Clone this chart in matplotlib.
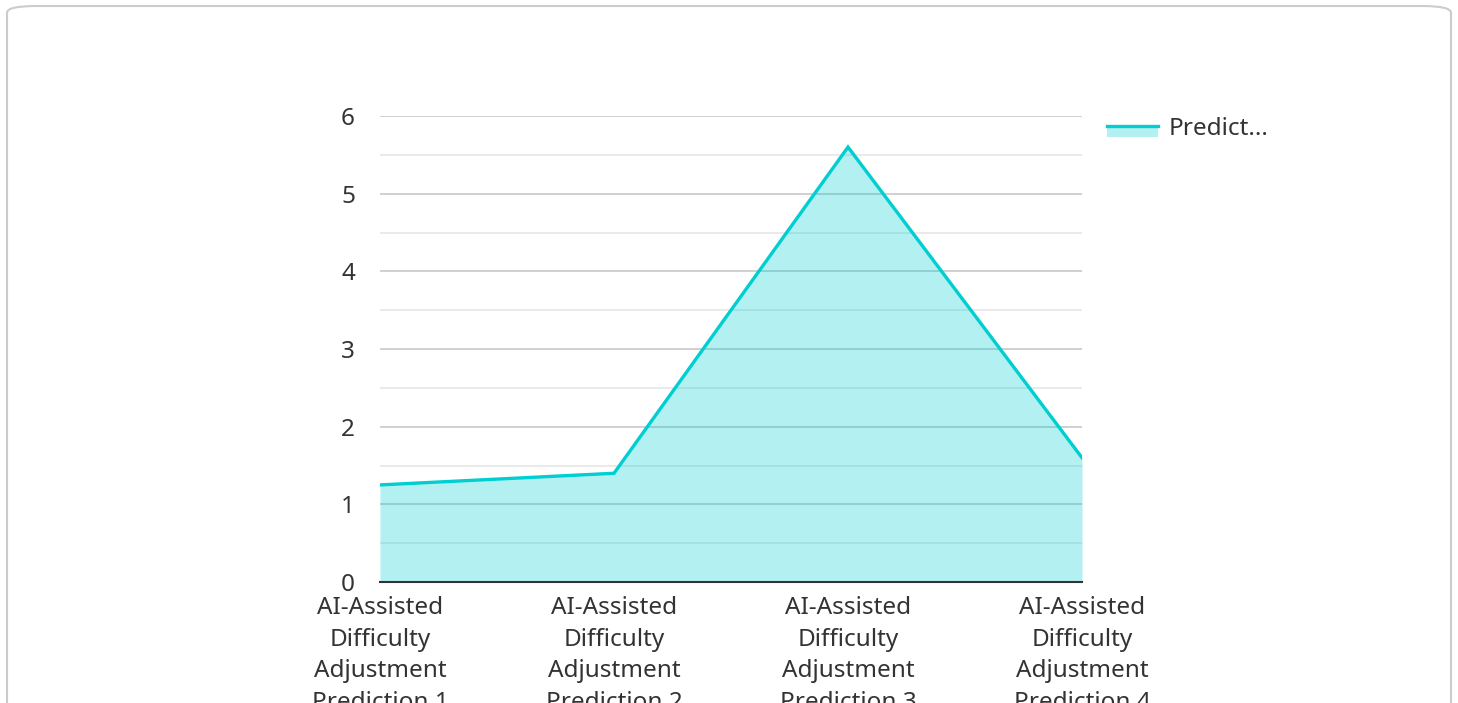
import matplotlib
matplotlib.use("Agg")
import matplotlib.pyplot as plt
from matplotlib.patches import FancyBboxPatch, Rectangle
from matplotlib.lines import Line2D
from matplotlib.legend_handler import HandlerBase

categories = [
    "AI-Assisted\nDifficulty\nAdjustment\nPrediction 1",
    "AI-Assisted\nDifficulty\nAdjustment\nPrediction 2",
    "AI-Assisted\nDifficulty\nAdjustment\nPrediction 3",
    "AI-Assisted\nDifficulty\nAdjustment\nPrediction 4",
]
values = [1.25, 1.4, 5.6, 1.6]
series_name = "Predict..."
y_ticks = [0, 1, 2, 3, 4, 5, 6]

line_color = "#00CED1"
text_color = "#333333"
font_size = 17.5

plt.rcParams["font.family"] = ["Noto Sans", "DejaVu Sans"]

fig = plt.figure(figsize=(14.58, 7.03), dpi=100)
fig.patch.set_facecolor("white")

# rounded card outline
card = FancyBboxPatch((7 / 1458, -0.05), (1451 - 7) / 1458, 1.05 - 6 / 703,
                      boxstyle="round,pad=0,rounding_size=0.02",
                      transform=fig.transFigure, facecolor="white",
                      edgecolor="#cccccc", linewidth=1.5, zorder=-10,
                      mutation_aspect=703 / 1458)
fig.patches.append(card)

ax = fig.add_axes([380 / 1458, 1 - 582 / 703, (1082 - 380) / 1458, (582 - 116) / 703])
ax.set_facecolor("none")
ax.set_zorder(1)

x = list(range(len(values)))
ax.fill_between(x, 0, values, color=line_color, alpha=0.3, linewidth=0, zorder=2)
ax.plot(x, values, color=line_color, linewidth=2.4, zorder=3, solid_joinstyle="miter")

ax.set_xlim(0, len(values) - 1)
ax.set_ylim(0, 6)

# grid lines: integers darker, halves lighter
for v in y_ticks[1:]:
    ax.axhline(v, color="#c8c8c8", linewidth=1.2, zorder=1)
for v in [0.5 + i for i in range(6)]:
    ax.axhline(v, color="#e6e6e6", linewidth=1.2, zorder=1)

ax.set_yticks(y_ticks)
ax.set_yticklabels([str(t) for t in y_ticks])
ax.set_xticks(x)
ax.set_xticklabels(categories, linespacing=1.43)

ax.tick_params(axis="y", length=0, pad=18, labelsize=font_size, labelcolor=text_color)
ax.tick_params(axis="x", length=0, pad=10, labelsize=font_size, labelcolor=text_color)
for lbl in ax.get_xticklabels():
    lbl.set_verticalalignment("top")

for s in ["top", "right", "left"]:
    ax.spines[s].set_visible(False)
ax.spines["bottom"].set_color("#333333")
ax.spines["bottom"].set_linewidth(1.5)
ax.spines["bottom"].set_zorder(4)


class AreaHandler(HandlerBase):
    def create_artists(self, legend, orig_handle, xdescent, ydescent,
                       width, height, fontsize, trans):
        rect = Rectangle((-xdescent, -ydescent - height * 0.1), width, height * 0.6,
                         facecolor=line_color, alpha=0.3, edgecolor="none",
                         transform=trans)
        ln = Line2D([-xdescent, -xdescent + width],
                    [-ydescent + height * 0.5, -ydescent + height * 0.5],
                    color=line_color, linewidth=2.4, transform=trans)
        return [rect, ln]


handle = Line2D([], [], color=line_color)
fig.legend([handle], [series_name], handler_map={Line2D: AreaHandler()},
           loc="upper left", bbox_to_anchor=(1085 / 1458, 1 - 95 / 703),
           frameon=False, fontsize=font_size, handlelength=2.1, handletextpad=0.45,
           labelcolor=text_color)

fig.savefig("out.png", dpi=100, facecolor="white")
